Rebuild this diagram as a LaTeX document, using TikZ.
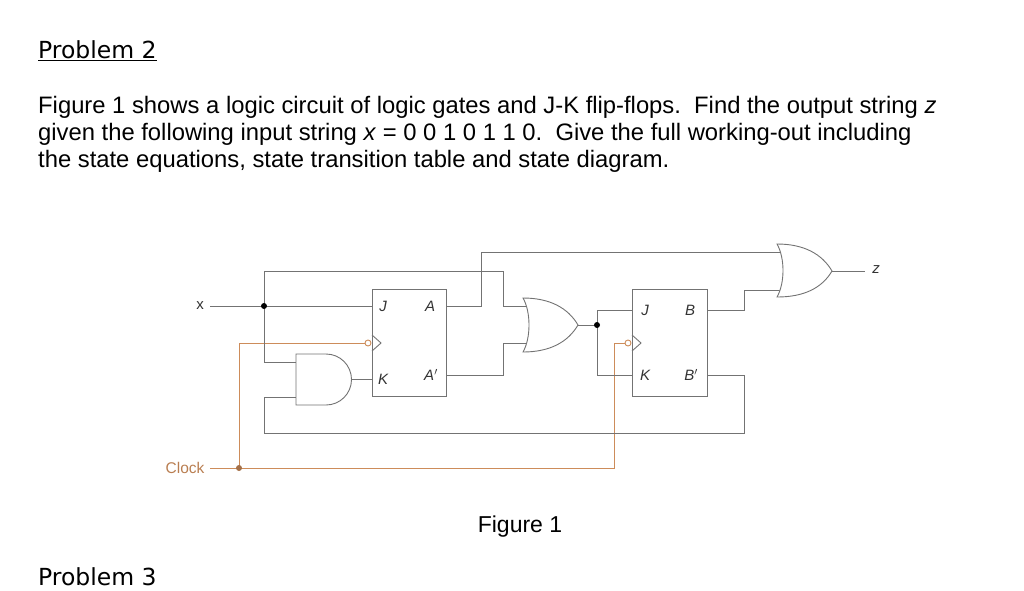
\documentclass[tikz,border=0pt]{standalone}
\usepackage{fontspec}
\setmainfont{Liberation Sans}
\newfontfamily\verd{DejaVu Sans}
\definecolor{clkc}{RGB}{205,140,90}
\begin{document}
\begin{tikzpicture}[x=1pt,y=-1pt,
  wire/.style={draw=black!55,line width=0.9pt},
  clk/.style={draw=clkc,line width=0.9pt},
  lbl/.style={font=\fontsize{15}{15}\selectfont\itshape,text=black!80,inner sep=0pt},
  body/.style={font=\fontsize{23.8}{23.8}\selectfont,anchor=base west,inner sep=0pt},
  gate/.style={draw=black!55,line width=0.9pt,fill=white}]
\useasboundingbox (0,0) rectangle (1024,590);
\node[anchor=base west,inner sep=0pt,font=\verd\fontsize{23.5}{23.5}\selectfont] (p2) at (38,58) {\underline{Problem 2}};
\node[body] (l1) at (38,113) {Figure 1 shows a logic circuit of logic gates and J-K flip-flops.\ \ Find the output string \textit{z}};
\node[body] (l2) at (38,140) {given the following input string \textit{x} = 0 0 1 0 1 1 0.\ \ Give the full working-out including};
\node[body] (l3) at (38,167) {the state equations, state transition table and state diagram.};
\node[anchor=base west,inner sep=0pt,font=\verd\fontsize{23.5}{23.5}\selectfont] (p3) at (38,585) {Problem 3};
\node[anchor=base,inner sep=0pt,font=\fontsize{23}{23}\selectfont] (fig) at (520,532) {Figure 1};
% flip-flops
\draw[wire] (372,289) rectangle (446,396);
\draw[wire] (632,289) rectangle (707,396);
\node[lbl] (ja) at (383,306) {J};
\node[lbl] (qa) at (430,306) {A};
\node[lbl] (ka) at (383,379) {K};
\node[lbl] (qna) at (431,375) {A$'$};
\node[lbl] (jb) at (645,310) {J};
\node[lbl] (qb) at (690,310) {B};
\node[lbl] (kb) at (645,375) {K};
\node[lbl] (qnb) at (691,375) {B$'$};
\node[lbl,font=\fontsize{15}{15}\selectfont] (xin) at (200,306) {x};
\node[lbl] (zout) at (876,270) {z};
\node[inner sep=0pt,font=\fontsize{15.5}{15.5}\selectfont,text=clkc!90!black] (clock) at (185,468) {Clock};
% clock wires
\coordinate (cd) at (239,468);
\draw[clk] (210,468) -- (614,468) -- (614,343) -- (625,343);
\draw[clk] (cd) -- (239,343) -- (365,343);
\fill[clkc!80!black] (cd) circle (3);
\draw[clk,fill=white] (368,343) circle (3);
\draw[clk,fill=white] (628,343) circle (3);
\draw[wire] (372,335) -- (381,343) -- (372,351);
\draw[wire] (632,335) -- (641,343) -- (632,351);
% x wires
\coordinate (xd) at (264,306);
\draw[wire] (210,306) -- (372,306);
\draw[wire] (xd) -- (264,271) -- (503,271) -- (503,306) -- (528,306);
\draw[wire] (xd) -- (264,362) -- (300,362);
\fill[black] (xd) circle (3);
% AND gate
\draw[wire] (264,397) -- (264,433) -- (744,433) -- (744,375) -- (707,375);
\draw[wire] (264,397) -- (300,397);
\draw[gate] (296,354) -- (326,354) .. controls (340.1,354) and (351.5,365.4) .. (351.5,379.5)
  .. controls (351.5,393.6) and (340.1,405) .. (326,405) -- (296,405) -- cycle;
\draw[wire] (351.5,379) -- (372,379);
% A outputs
\draw[wire] (446,306) -- (481,306) -- (481,252) -- (782,252);
\draw[wire] (446,375) -- (503,375) -- (503,343) -- (528,343);
% OR1
\draw[gate] (523,298) .. controls (531,312) and (531,338) .. (523,352)
  .. controls (550,352) and (568,342) .. (578,325)
  .. controls (568,308) and (550,298) .. (523,298) -- cycle;
\coordinate (od) at (597,325);
\draw[wire] (578,325) -- (od);
\draw[wire] (597,310) -- (632,310);
\draw[wire] (597,310) -- (597,375) -- (632,375);
\fill[black] (od) circle (3);
% B out
\draw[wire] (707,310) -- (744,310) -- (744,290) -- (782,290);
% OR2
\draw[gate] (777,244) .. controls (785,258) and (785,283) .. (777,297)
  .. controls (804,297) and (822,288) .. (832,271)
  .. controls (822,254) and (804,244) .. (777,244) -- cycle;
\draw[wire] (832,271) -- (865,271);
\end{tikzpicture}
\end{document}
